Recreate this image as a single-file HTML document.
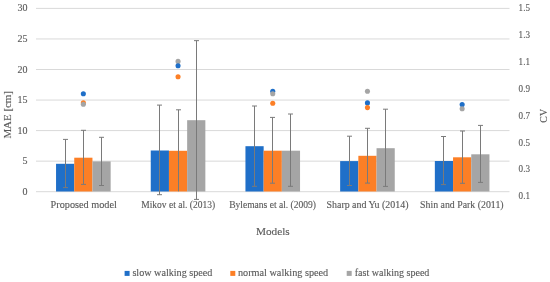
<!DOCTYPE html>
<html><head><meta charset="utf-8"><style>
html,body{margin:0;padding:0;background:#fff;width:550px;height:282px;overflow:hidden}
svg{display:block;will-change:transform}
text{font-family:"Liberation Serif",serif;fill:#595959;stroke:#595959;stroke-width:0.12px}
</style></head><body>
<svg width="550" height="282" viewBox="0 0 550 282">
<line x1="36.0" y1="191.70" x2="509.5" y2="191.70" stroke="#D9D9D9" stroke-width="1"/>
<line x1="36.0" y1="161.15" x2="509.5" y2="161.15" stroke="#D9D9D9" stroke-width="1"/>
<line x1="36.0" y1="130.60" x2="509.5" y2="130.60" stroke="#D9D9D9" stroke-width="1"/>
<line x1="36.0" y1="100.05" x2="509.5" y2="100.05" stroke="#D9D9D9" stroke-width="1"/>
<line x1="36.0" y1="69.50" x2="509.5" y2="69.50" stroke="#D9D9D9" stroke-width="1"/>
<line x1="36.0" y1="38.95" x2="509.5" y2="38.95" stroke="#D9D9D9" stroke-width="1"/>
<line x1="36.0" y1="8.40" x2="509.5" y2="8.40" stroke="#D9D9D9" stroke-width="1"/>
<rect x="56.05" y="163.80" width="18.20" height="27.70" fill="#1F6FC8"/>
<rect x="74.25" y="157.70" width="18.20" height="33.80" fill="#FC7F26"/>
<rect x="92.45" y="161.40" width="18.20" height="30.10" fill="#A5A5A5"/>
<rect x="150.75" y="150.50" width="18.20" height="41.00" fill="#1F6FC8"/>
<rect x="168.95" y="150.80" width="18.20" height="40.70" fill="#FC7F26"/>
<rect x="187.15" y="120.20" width="18.20" height="71.30" fill="#A5A5A5"/>
<rect x="245.45" y="146.20" width="18.20" height="45.30" fill="#1F6FC8"/>
<rect x="263.65" y="150.70" width="18.20" height="40.80" fill="#FC7F26"/>
<rect x="281.85" y="150.70" width="18.20" height="40.80" fill="#A5A5A5"/>
<rect x="340.15" y="161.10" width="18.20" height="30.40" fill="#1F6FC8"/>
<rect x="358.35" y="155.80" width="18.20" height="35.70" fill="#FC7F26"/>
<rect x="376.55" y="148.20" width="18.20" height="43.30" fill="#A5A5A5"/>
<rect x="434.85" y="161.00" width="18.20" height="30.50" fill="#1F6FC8"/>
<rect x="453.05" y="157.30" width="18.20" height="34.20" fill="#FC7F26"/>
<rect x="471.25" y="154.30" width="18.20" height="37.20" fill="#A5A5A5"/>
<line x1="65.50" y1="139.40" x2="65.50" y2="187.60" stroke="#7A7A7A" stroke-width="1"/>
<line x1="63.00" y1="139.40" x2="68.00" y2="139.40" stroke="#7A7A7A" stroke-width="1"/>
<line x1="63.00" y1="187.60" x2="68.00" y2="187.60" stroke="#7A7A7A" stroke-width="1"/>
<line x1="83.50" y1="130.30" x2="83.50" y2="184.40" stroke="#7A7A7A" stroke-width="1"/>
<line x1="81.00" y1="130.30" x2="86.00" y2="130.30" stroke="#7A7A7A" stroke-width="1"/>
<line x1="81.00" y1="184.40" x2="86.00" y2="184.40" stroke="#7A7A7A" stroke-width="1"/>
<line x1="101.50" y1="137.30" x2="101.50" y2="185.50" stroke="#7A7A7A" stroke-width="1"/>
<line x1="99.00" y1="137.30" x2="104.00" y2="137.30" stroke="#7A7A7A" stroke-width="1"/>
<line x1="99.00" y1="185.50" x2="104.00" y2="185.50" stroke="#7A7A7A" stroke-width="1"/>
<line x1="159.50" y1="105.10" x2="159.50" y2="194.70" stroke="#7A7A7A" stroke-width="1"/>
<line x1="157.00" y1="105.10" x2="162.00" y2="105.10" stroke="#7A7A7A" stroke-width="1"/>
<line x1="157.00" y1="194.70" x2="162.00" y2="194.70" stroke="#7A7A7A" stroke-width="1"/>
<line x1="178.50" y1="109.80" x2="178.50" y2="191.30" stroke="#7A7A7A" stroke-width="1"/>
<line x1="176.00" y1="109.80" x2="181.00" y2="109.80" stroke="#7A7A7A" stroke-width="1"/>
<line x1="196.50" y1="40.65" x2="196.50" y2="199.40" stroke="#7A7A7A" stroke-width="1"/>
<line x1="194.00" y1="40.65" x2="199.00" y2="40.65" stroke="#7A7A7A" stroke-width="1"/>
<line x1="194.00" y1="199.40" x2="199.00" y2="199.40" stroke="#7A7A7A" stroke-width="1"/>
<line x1="254.50" y1="106.00" x2="254.50" y2="186.30" stroke="#7A7A7A" stroke-width="1"/>
<line x1="252.00" y1="106.00" x2="257.00" y2="106.00" stroke="#7A7A7A" stroke-width="1"/>
<line x1="252.00" y1="186.30" x2="257.00" y2="186.30" stroke="#7A7A7A" stroke-width="1"/>
<line x1="272.50" y1="117.40" x2="272.50" y2="183.20" stroke="#7A7A7A" stroke-width="1"/>
<line x1="270.00" y1="117.40" x2="275.00" y2="117.40" stroke="#7A7A7A" stroke-width="1"/>
<line x1="270.00" y1="183.20" x2="275.00" y2="183.20" stroke="#7A7A7A" stroke-width="1"/>
<line x1="290.50" y1="114.00" x2="290.50" y2="186.30" stroke="#7A7A7A" stroke-width="1"/>
<line x1="288.00" y1="114.00" x2="293.00" y2="114.00" stroke="#7A7A7A" stroke-width="1"/>
<line x1="288.00" y1="186.30" x2="293.00" y2="186.30" stroke="#7A7A7A" stroke-width="1"/>
<line x1="349.50" y1="136.20" x2="349.50" y2="185.50" stroke="#7A7A7A" stroke-width="1"/>
<line x1="347.00" y1="136.20" x2="352.00" y2="136.20" stroke="#7A7A7A" stroke-width="1"/>
<line x1="347.00" y1="185.50" x2="352.00" y2="185.50" stroke="#7A7A7A" stroke-width="1"/>
<line x1="367.50" y1="128.30" x2="367.50" y2="183.10" stroke="#7A7A7A" stroke-width="1"/>
<line x1="365.00" y1="128.30" x2="370.00" y2="128.30" stroke="#7A7A7A" stroke-width="1"/>
<line x1="365.00" y1="183.10" x2="370.00" y2="183.10" stroke="#7A7A7A" stroke-width="1"/>
<line x1="385.50" y1="109.20" x2="385.50" y2="186.40" stroke="#7A7A7A" stroke-width="1"/>
<line x1="383.00" y1="109.20" x2="388.00" y2="109.20" stroke="#7A7A7A" stroke-width="1"/>
<line x1="383.00" y1="186.40" x2="388.00" y2="186.40" stroke="#7A7A7A" stroke-width="1"/>
<line x1="443.50" y1="136.50" x2="443.50" y2="184.60" stroke="#7A7A7A" stroke-width="1"/>
<line x1="441.00" y1="136.50" x2="446.00" y2="136.50" stroke="#7A7A7A" stroke-width="1"/>
<line x1="441.00" y1="184.60" x2="446.00" y2="184.60" stroke="#7A7A7A" stroke-width="1"/>
<line x1="462.50" y1="131.00" x2="462.50" y2="183.30" stroke="#7A7A7A" stroke-width="1"/>
<line x1="460.00" y1="131.00" x2="465.00" y2="131.00" stroke="#7A7A7A" stroke-width="1"/>
<line x1="460.00" y1="183.30" x2="465.00" y2="183.30" stroke="#7A7A7A" stroke-width="1"/>
<line x1="480.50" y1="125.40" x2="480.50" y2="182.40" stroke="#7A7A7A" stroke-width="1"/>
<line x1="478.00" y1="125.40" x2="483.00" y2="125.40" stroke="#7A7A7A" stroke-width="1"/>
<line x1="478.00" y1="182.40" x2="483.00" y2="182.40" stroke="#7A7A7A" stroke-width="1"/>
<circle cx="83.35" cy="93.80" r="2.55" fill="#1F6FC8"/>
<circle cx="83.35" cy="102.70" r="2.55" fill="#FC7F26"/>
<circle cx="83.35" cy="104.30" r="2.55" fill="#A5A5A5"/>
<circle cx="178.05" cy="61.40" r="2.55" fill="#A5A5A5"/>
<circle cx="178.05" cy="65.80" r="2.55" fill="#1F6FC8"/>
<circle cx="178.05" cy="76.70" r="2.55" fill="#FC7F26"/>
<circle cx="272.75" cy="103.30" r="2.55" fill="#FC7F26"/>
<circle cx="272.75" cy="91.20" r="2.55" fill="#1F6FC8"/>
<circle cx="272.75" cy="93.80" r="2.55" fill="#A5A5A5"/>
<circle cx="367.45" cy="91.20" r="2.55" fill="#A5A5A5"/>
<circle cx="367.45" cy="102.90" r="2.55" fill="#1F6FC8"/>
<circle cx="367.45" cy="107.60" r="2.55" fill="#FC7F26"/>
<circle cx="462.15" cy="104.50" r="2.55" fill="#1F6FC8"/>
<circle cx="462.15" cy="108.80" r="2.55" fill="#A5A5A5"/>
<text x="27.5" y="194.70" text-anchor="end" font-size="10">0</text>
<text x="27.5" y="164.15" text-anchor="end" font-size="10">5</text>
<text x="27.5" y="133.60" text-anchor="end" font-size="10">10</text>
<text x="27.5" y="103.05" text-anchor="end" font-size="10">15</text>
<text x="27.5" y="72.50" text-anchor="end" font-size="10">20</text>
<text x="27.5" y="41.95" text-anchor="end" font-size="10">25</text>
<text x="27.5" y="11.40" text-anchor="end" font-size="10">30</text>
<text x="518.6" y="199.30" font-size="10.4" textLength="11.35" lengthAdjust="spacingAndGlyphs">0.1</text>
<text x="518.6" y="172.44" font-size="10.4" textLength="11.35" lengthAdjust="spacingAndGlyphs">0.3</text>
<text x="518.6" y="145.58" font-size="10.4" textLength="11.35" lengthAdjust="spacingAndGlyphs">0.5</text>
<text x="518.6" y="118.72" font-size="10.4" textLength="11.35" lengthAdjust="spacingAndGlyphs">0.7</text>
<text x="518.6" y="91.86" font-size="10.4" textLength="11.35" lengthAdjust="spacingAndGlyphs">0.9</text>
<text x="518.6" y="65.00" font-size="10.4" textLength="11.35" lengthAdjust="spacingAndGlyphs">1.1</text>
<text x="518.6" y="38.14" font-size="10.4" textLength="11.35" lengthAdjust="spacingAndGlyphs">1.3</text>
<text x="518.6" y="11.28" font-size="10.4" textLength="11.35" lengthAdjust="spacingAndGlyphs">1.5</text>
<text x="50.55" y="208.1" font-size="9.6" textLength="66.3" lengthAdjust="spacingAndGlyphs">Proposed model</text>
<text x="141.30" y="208.1" font-size="9.6" textLength="73.8" lengthAdjust="spacingAndGlyphs">Mikov et al. (2013)</text>
<text x="229.15" y="208.1" font-size="9.6" textLength="86.9" lengthAdjust="spacingAndGlyphs">Bylemans et al. (2009)</text>
<text x="326.50" y="208.1" font-size="9.6" textLength="82.0" lengthAdjust="spacingAndGlyphs">Sharp and Yu (2014)</text>
<text x="420.00" y="208.1" font-size="9.6" textLength="83.6" lengthAdjust="spacingAndGlyphs">Shin and Park (2011)</text>
<text x="255.9" y="234.7" font-size="10.5" textLength="33.8" lengthAdjust="spacingAndGlyphs">Models</text>
<text transform="translate(11.4,138.6) rotate(-90)" font-size="11" textLength="47.6" lengthAdjust="spacingAndGlyphs">MAE [cm]</text>
<text transform="translate(547,122.7) rotate(-90)" font-size="10.5" textLength="13.8" lengthAdjust="spacingAndGlyphs">CV</text>
<rect x="124.6" y="270.9" width="5" height="5" fill="#1F6FC8"/>
<text x="132.4" y="276.1" font-size="9.5" textLength="80.0" lengthAdjust="spacingAndGlyphs">slow walking speed</text>
<rect x="230.3" y="270.9" width="5" height="5" fill="#FC7F26"/>
<text x="238.0" y="276.1" font-size="9.5" textLength="90.2" lengthAdjust="spacingAndGlyphs">normal walking speed</text>
<rect x="346.7" y="270.9" width="5" height="5" fill="#A5A5A5"/>
<text x="354.7" y="276.1" font-size="9.5" textLength="74.7" lengthAdjust="spacingAndGlyphs">fast walking speed</text>
</svg>
</body></html>
